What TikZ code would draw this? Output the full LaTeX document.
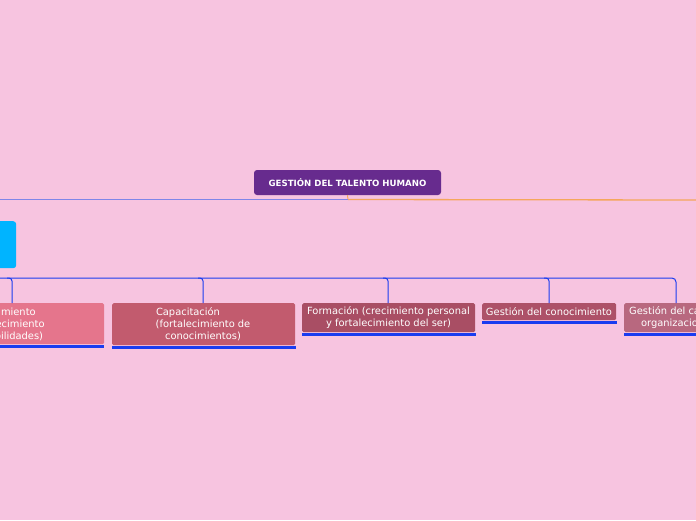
\documentclass[tikz,border=0pt]{standalone}
\usepackage{fontspec}
\setmainfont{DejaVu Sans}
\definecolor{bg}{HTML}{F7C4E0}
\definecolor{title}{HTML}{672B8E}
\definecolor{lblue}{HTML}{7F85E8}
\definecolor{orng}{HTML}{F5A65B}
\definecolor{cyanb}{HTML}{00B4FF}
\definecolor{dblue}{HTML}{1A3CF0}
\definecolor{c1}{HTML}{E5758C}
\definecolor{c2}{HTML}{C25B6E}
\definecolor{c3}{HTML}{A94E64}
\definecolor{c4}{HTML}{AD5168}
\definecolor{c5}{HTML}{B8687F}
\tikzset{
  sub/.style={anchor=north west,rounded corners=1.5pt,inner sep=0pt},
  lbl/.style={text=white,font=\fontsize{9.9}{12}\selectfont,align=center,inner sep=0pt},
  ul/.style={dblue,line width=2.2pt},
  br/.style={dblue,line width=1pt}
}
\begin{document}
\begin{tikzpicture}[x=1pt,y=-1pt]
\useasboundingbox (0,0) rectangle (696,520);
\clip (0,0) rectangle (696,520);
\fill[bg] (0,0) rectangle (696,520);
% title
\node[fill=title,rounded corners=3pt,text=white,font=\bfseries\fontsize{8.6}{10}\selectfont,minimum width=187pt,minimum height=25pt,inner sep=0pt] (t) at (347.5,182.5) {GESTIÓN DEL TALENTO HUMANO};
\coordinate (tb) at (348,199.5);
\draw[orng,line width=1pt] (t.south) -- (tb);
\coordinate (le) at (0,199.5);
\coordinate (re) at (696,200);
\draw[lblue,line width=1.3pt] (tb) -- (le);
\draw[orng,line width=1.3pt] (tb) -- (re);
% cyan box
\node[fill=cyanb,rounded corners=3pt,anchor=north west,minimum width=26pt,minimum height=47pt,inner sep=0pt] (cy) at (-10,221) {};
% boxes
\node[sub,fill=c1,minimum width=114pt,minimum height=41pt] (b1) at (-10,303) {};
\node[lbl] at (5,324) {Entrenamiento\hspace*{12pt}\\(fortalecimiento\\de habilidades)};
\node[sub,fill=c2,minimum width=183pt,minimum height=42pt] (b2) at (112,303) {};
\node[lbl] at (203,324) {Capacitación\hspace*{30pt}\\ (fortalecimiento de\\conocimientos)};
\node[sub,fill=c3,minimum width=173pt,minimum height=29pt] (b3) at (302,303) {};
\node[lbl] at (388.5,318) {Formación (crecimiento personal\\y fortalecimiento del ser)};
\node[sub,fill=c4,minimum width=134pt,minimum height=17pt] (b4) at (482,303) {};
\node[lbl] at (549,312) {Gestión del conocimiento};
\node[sub,fill=c5,minimum width=90pt,minimum height=29pt] (b5) at (624,303) {};
\node[lbl] at (677,318) {Gestión del cambio\\organizacional};
% underlines
\draw[ul] (b1.south west) ++(0,2) -- ++(114,0);
\draw[ul] (b2.south west) ++(0,2) -- ++(184,0);
\draw[ul] (b3.south west) ++(0,2) -- ++(174,0);
\draw[ul] (b4.south west) ++(0,2) -- ++(135,0);
\draw[ul] (b5.south west) ++(0,2) -- ++(90,0);
% branches
\draw[br,rounded corners=4pt] (-5,278) -- (676,278) -- (676,303);
\foreach \x in {12,203,388,549}{
  \draw[br,rounded corners=3pt] (\x-5,278) -- (\x,278) -- (\x,303);
}
\end{tikzpicture}
\end{document}
